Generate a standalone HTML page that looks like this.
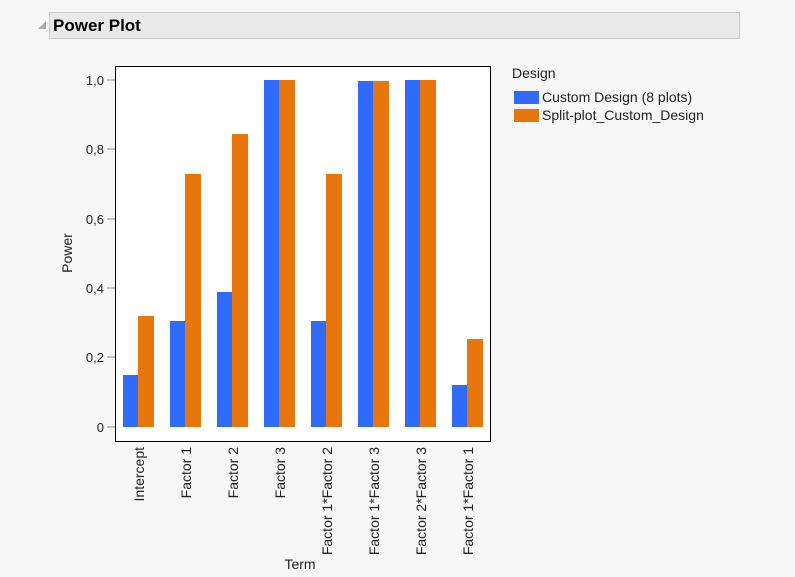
<!DOCTYPE html><html><head><style>body{margin:0;background:#f7f7f7;overflow:hidden;}</style></head><body>
<svg width="795" height="577" xmlns="http://www.w3.org/2000/svg" font-family="Liberation Sans, sans-serif" style="display:block">
<rect width="795" height="577" fill="#f7f7f7"/>
<rect x="49.5" y="12.5" width="690" height="26" fill="#e9e9e9" stroke="#c8c8c8"/>
<path d="M38 29 L46 21 L46 29 Z" fill="#aaa"/>
<text x="53" y="31" font-size="17" font-weight="bold" fill="#000">Power Plot</text>
<rect x="115.5" y="66.5" width="375" height="375" fill="#fff" stroke="#000"/>
<g font-size="13" fill="#222" text-anchor="end">
<text x="104" y="85">1,0</text><line x1="107" x2="115" y1="80" y2="80" stroke="#888"/>
<text x="104" y="154">0,8</text><line x1="107" x2="115" y1="149" y2="149" stroke="#888"/>
<text x="104" y="224">0,6</text><line x1="107" x2="115" y1="219" y2="219" stroke="#888"/>
<text x="104" y="293">0,4</text><line x1="107" x2="115" y1="288" y2="288" stroke="#888"/>
<text x="104" y="362">0,2</text><line x1="107" x2="115" y1="357" y2="357" stroke="#888"/>
<text x="104" y="432">0</text><line x1="107" x2="115" y1="427" y2="427" stroke="#888"/>
</g>
<g>
<rect x="123" y="375" width="15" height="52" fill="#2f6bff"/><rect x="138" y="316" width="16" height="111" fill="#e8760a"/>
<rect x="170" y="321" width="15" height="106" fill="#2f6bff"/><rect x="185" y="174" width="16" height="253" fill="#e8760a"/>
<rect x="217" y="292" width="15" height="135" fill="#2f6bff"/><rect x="232" y="134" width="16" height="293" fill="#e8760a"/>
<rect x="264" y="80" width="15" height="347" fill="#2f6bff"/><rect x="279" y="80" width="16" height="347" fill="#e8760a"/>
<rect x="311" y="321" width="15" height="106" fill="#2f6bff"/><rect x="326" y="174" width="16" height="253" fill="#e8760a"/>
<rect x="358" y="81" width="15" height="346" fill="#2f6bff"/><rect x="373" y="81" width="16" height="346" fill="#e8760a"/>
<rect x="405" y="80" width="15" height="347" fill="#2f6bff"/><rect x="420" y="80" width="16" height="347" fill="#e8760a"/>
<rect x="452" y="385" width="15" height="42" fill="#2f6bff"/><rect x="467" y="339" width="16" height="88" fill="#e8760a"/>
</g>
<g font-size="14" fill="#222" text-anchor="end">
<text transform="translate(144,447) rotate(-90)">Intercept</text>
<text transform="translate(191,447) rotate(-90)">Factor 1</text>
<text transform="translate(238,447) rotate(-90)">Factor 2</text>
<text transform="translate(285,447) rotate(-90)">Factor 3</text>
<text transform="translate(332,447) rotate(-90)">Factor 1*Factor 2</text>
<text transform="translate(379,447) rotate(-90)">Factor 1*Factor 3</text>
<text transform="translate(426,447) rotate(-90)">Factor 2*Factor 3</text>
<text transform="translate(473,447) rotate(-90)">Factor 1*Factor 1</text>
</g>
<text x="300" y="569" font-size="14" fill="#222" text-anchor="middle">Term</text>
<text transform="translate(72,253) rotate(-90)" font-size="14" fill="#222" text-anchor="middle">Power</text>
<text x="512" y="78" font-size="14" fill="#222">Design</text>
<rect x="514" y="91" width="25" height="13" fill="#2f6bff"/>
<text x="542" y="102" font-size="14" fill="#222">Custom Design (8 plots)</text>
<rect x="514" y="109" width="25" height="13" fill="#e8760a"/>
<text x="542" y="120" font-size="14" fill="#222">Split-plot_Custom_Design</text>
</svg>
</body></html>
